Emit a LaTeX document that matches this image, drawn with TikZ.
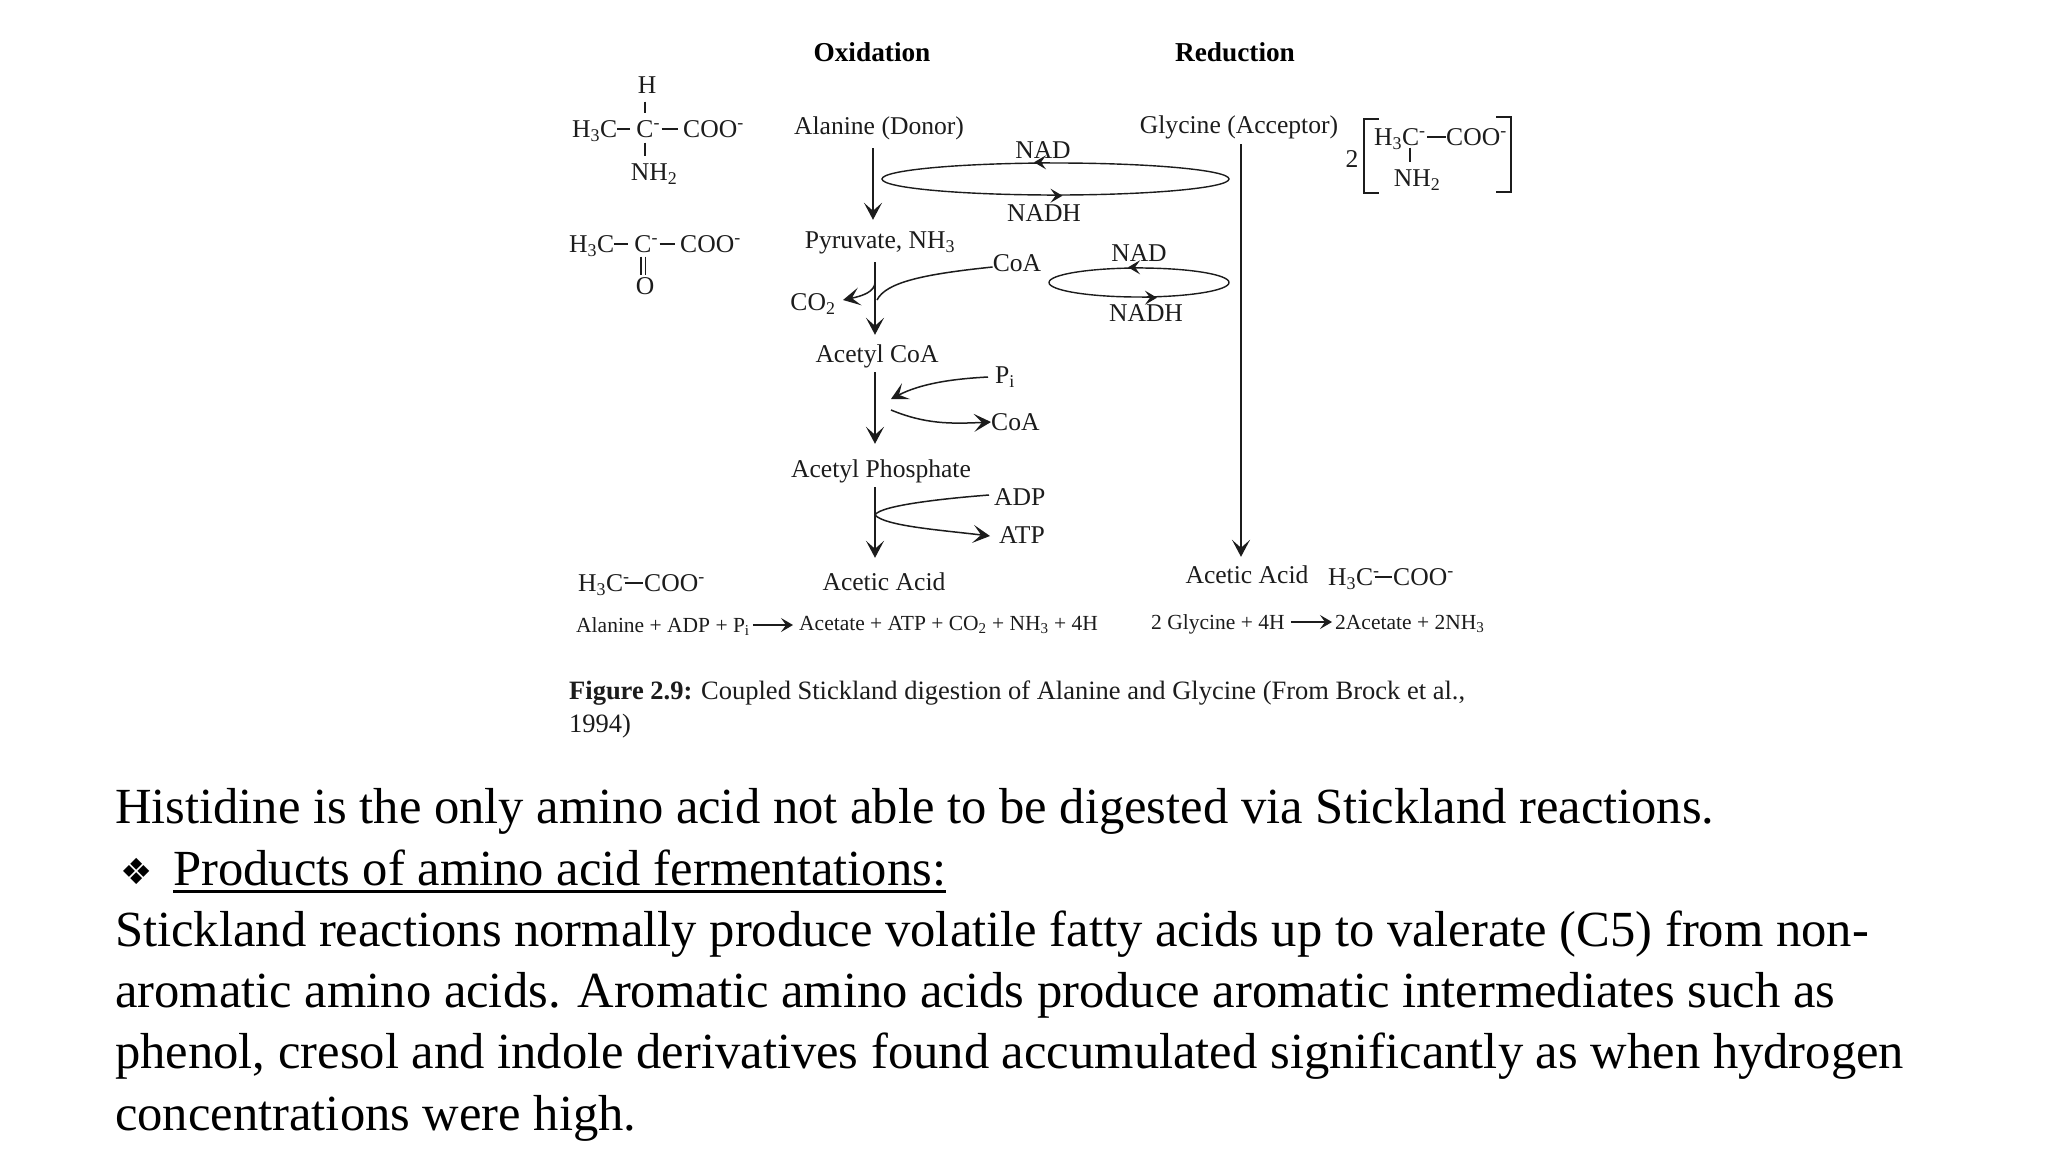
\documentclass[tikz,border=0pt]{standalone}
\usepackage{fontspec}
\setmainfont{Liberation Serif}
\newfontfamily\symfont{DejaVu Sans}
\usetikzlibrary{arrows.meta,shapes.geometric,calc}
\newcommand{\sbs}[1]{\textsubscript{#1}}
\newcommand{\spm}{\rlap{\textsuperscript{-}}}
\definecolor{ink}{HTML}{1C1C1C}
\tikzset{
  lab/.style={inner sep=0pt,text height=22pt,text depth=5pt,text=ink,font=\fontsize{25.6}{30}\selectfont},
  eqlab/.style={inner sep=0pt,text height=18pt,text depth=4pt,text=ink,font=\fontsize{21.5}{26}\selectfont},
  head/.style={inner sep=0pt,text=black,font=\bfseries\fontsize{27.3}{32}\selectfont},
  captext/.style={inner sep=0pt,anchor=base west,text=ink,font=\fontsize{26.5}{32}\selectfont},
  body/.style={inner sep=0pt,anchor=base west,text=black,font=\fontsize{50.6}{60}\selectfont},
  bond/.style={draw=ink,line width=1.5pt},
  conn/.style={draw=ink,line width=1.5pt},
  arr/.style={draw=ink,line width=1.5pt,-{Stealth[length=17pt,width=18pt,inset=8pt]}},
  arrsm/.style={draw=ink,line width=1.5pt,-{Stealth[length=12pt,width=14pt,inset=5pt]}},
  loopring/.style={ellipse,draw=ink,line width=1.4pt,inner sep=0pt,fill=none},
}
\begin{document}
\begin{tikzpicture}[x=1pt,y=-1pt]
\useasboundingbox[fill=white] (0,0) rectangle (2048,1152);
% headers
\node[head] (oxid) at (872,52) {Oxidation};
\node[head] (redu) at (1235,52) {Reduction};
% alanine structure
\node[lab] (alaH) at (647,85) {H};
\node[lab,anchor=west] (alaM) at (572,129) {H\sbs{3}C};
\node[lab] (alaC) at (645,129) {C\spm};
\node[lab,anchor=west] (alaO) at (683,129) {COO\textsuperscript{-}};
\node[lab] (alaN) at (654,172) {NH\sbs{2}};
\draw[bond,shorten <=3pt,shorten >=2pt] (alaH.south -| alaC) -- (alaC.north);
\draw[bond,shorten >=6pt] (alaM.east) -- (alaC.west);
\draw[bond,shorten <=8pt,shorten >=5pt] (alaC.east) -- (alaO.west);
\draw[bond,shorten <=0pt,shorten >=2pt] (alaC.south) -- (alaN.north -| alaC);
% pyruvate structure
\node[lab,anchor=west] (pyrM) at (569,244) {H\sbs{3}C};
\node[lab] (pyrC) at (643,244) {C\spm};
\node[lab,anchor=west] (pyrO) at (680,244) {COO\textsuperscript{-}};
\node[lab] (pyrX) at (645,286) {O};
\draw[bond,shorten >=6pt] (pyrM.east) -- (pyrC.west);
\draw[bond,shorten <=8pt,shorten >=5pt] (pyrC.east) -- (pyrO.west);
\draw[bond,line width=1.2pt,shorten >=-3pt,shorten <=-1pt] ($(pyrC.south)+(-2,0)$) -- ($(pyrX.north)+(-4,0)$);
\draw[bond,line width=1.2pt,shorten >=-3pt,shorten <=-1pt] ($(pyrC.south)+(2.5,0)$) -- ($(pyrX.north)+(0.5,0)$);
% oxidation pathway
\coordinate (colA) at (873,0);
\coordinate (colB) at (875,0);
\coordinate (colC) at (1241,0);
\coordinate (colD) at (1410,0);
\node[lab] (ala) at (879,126) {Alanine (Donor)};
\node[lab] (pyr) at (880,240) {Pyruvate, NH\sbs{3}};
\node[lab] (coaA) at (1017,263) {CoA};
\node[lab] (co2) at (813,302) {CO\sbs{2}};
\node[lab] (ace) at (877,354) {Acetyl CoA};
\node[lab,anchor=west] (pi) at (995,375) {P\sbs{i}};
\node[lab,anchor=west] (coaB) at (991,422) {CoA};
\node[lab] (acp) at (881,469) {Acetyl Phosphate};
\node[lab,anchor=west] (adp) at (994,497) {ADP};
\node[lab,anchor=west] (atp) at (999,535) {ATP};
\node[lab] (aca) at (884,582) {Acetic Acid};
\draw[arr,shorten <=8.5pt,shorten >=6.5pt] (ala.south -| colA) -- (pyr.north -| colA);
\draw[arr,shorten <=8.5pt,shorten >=5.5pt] (pyr.south -| colB) -- (ace.north -| colB);
\draw[arr,shorten <=4.5pt,shorten >=11.5pt] (ace.south -| colB) -- (acp.north -| colB);
\draw[arr,shorten <=4.5pt,shorten >=10.5pt] (acp.south -| colB) -- (aca.north -| colB);
% side curves
\coordinate (jA) at (877,300);
\coordinate (jB) at (875,282);
\coordinate (tipCO) at (843,300);
\draw[conn] (coaA.west) ++(0,4) .. controls (925,274) and (886,282) .. (jA);
\draw[arr] (jB) .. controls (875,292) and (862,296) .. (tipCO);
\coordinate (tipP) at (891,399);
\coordinate (stC) at (891,410);
\draw[arr] (pi.west) ++(-7,2) .. controls (950,379) and (920,384) .. (tipP);
\draw[arr] (stC) .. controls (925,424) and (950,424) .. (coaB.west);
\coordinate (jC) at (875,515);
\coordinate (tipA) at (990,536);
\draw[conn] (adp.west) ++(-5,-2) .. controls (950,498) and (880,505) .. (jC);
\draw[arr] (jC) .. controls (885,526) and (940,530) .. (tipA);
% NAD loops
\node[loopring,minimum width=347pt,minimum height=32pt] (loopA) at (1055.5,179) {};
\node[loopring,minimum width=180pt,minimum height=29pt] (loopB) at (1139,282.5) {};
\node[lab] (nadA) at (1043,150) {NAD};
\node[lab] (nadhA) at (1044,213) {NADH};
\node[lab] (nadB) at (1139,253) {NAD};
\node[lab] (nadhB) at (1146,313) {NADH};
\draw[arrsm] ($(loopA.north)+(-6,0)$) -- ($(loopA.north)+(-21.5,0)$);
\draw[arrsm] ($(loopA.south)+(-9,0)$) -- ($(loopA.south)+(7,0)$);
\draw[arrsm] ($(loopB.north)+(4,0)$) -- ($(loopB.north)+(-11,0)$);
\draw[arrsm] ($(loopB.south)+(3,0)$) -- ($(loopB.south)+(18,0)$);
% glycine
\node[lab] (gly) at (1239,125) {Glycine (Acceptor)};
\node[lab] (acb) at (1247,575) {Acetic Acid};
\draw[arr,shorten <=5.5pt,shorten >=4.5pt] (gly.south -| colC) -- (acb.north -| colC);
% glycine structure
\node[lab] (two) at (1352,159) {2};
\node[lab,anchor=west] (glyM) at (1374,137) {H\sbs{3}C\textsuperscript{-}};
\node[lab,anchor=west] (glyO) at (1446,137) {COO\textsuperscript{-}};
\node[lab] (glyN) at (1417,178) {NH\sbs{2}};
\draw[bond] (1427,137) -- (glyO.west);
\draw[bond,shorten <=-3pt,shorten >=2pt] (glyM.south -| colD) -- (glyN.north -| colD);
\draw[bond] (1379,119) -- (1364,119) -- (1364,193) -- (1379,193);
\draw[bond] (1496,117) -- (1511,117) -- (1511,192) -- (1496,192);
% acetate structures
\node[lab,anchor=west] (acM) at (578,583) {H\sbs{3}C\rlap{\textsuperscript{-}}};
\node[lab,anchor=west] (acO) at (644,583) {COO\textsuperscript{-}};
\draw[bond,shorten <=2pt,shorten >=1pt] (acM.east) -- (acO.west);
\node[lab,anchor=west] (adM) at (1328,577) {H\sbs{3}C\rlap{\textsuperscript{-}}};
\node[lab,anchor=west] (adO) at (1393,577) {COO\textsuperscript{-}};
\draw[bond,shorten <=2pt,shorten >=1pt] (adM.east) -- (adO.west);
% equations
\node[eqlab,anchor=west] (eqA) at (576,625) {Alanine + ADP + P\sbs{i}};
\node[eqlab,anchor=west] (eqB) at (799,623) {Acetate + ATP + CO\sbs{2} + NH\sbs{3} + 4H};
\node[eqlab,anchor=west] (eqC) at (1151,622) {2 Glycine + 4H};
\node[eqlab,anchor=west] (eqD) at (1335,622) {2Acetate + 2NH\sbs{3}};
\draw[arrsm,shorten <=3pt,shorten >=6pt] (eqA.east) -- (eqA.east -| eqB.west);
\draw[arrsm,shorten <=6pt,shorten >=3pt] (eqC.east) -- (eqC.east -| eqD.west);
% caption
\node[captext] (capA) at (569,699) {\textbf{Figure 2.9:} Coupled Stickland digestion of Alanine and Glycine (From Brock et al.,};
\node[captext] (capB) at (569,732) {1994)};
% body text
\node[body] (bA) at (115,823) {Histidine is the only amino acid not able to be digested via Stickland reactions.};
\node[inner sep=0pt,text=black,font=\symfont\fontsize{36}{40}\selectfont] (bul) at (137,871) {❖};
\node[body] (bB) at (173,885) {Products of amino acid fermentations:};
\draw[line width=2.6pt,black] ($(bB.base west)+(0,6.5)$) -- ($(bB.base east)+(0,6.5)$);
\node[body] (bC) at (115,946) {Stickland reactions normally produce volatile fatty acids up to valerate (C5) from non-};
\node[body] (bD) at (115,1007) {aromatic amino acids. Aromatic amino acids produce aromatic intermediates such as};
\node[body] (bE) at (115,1068) {phenol, cresol and indole derivatives found accumulated significantly as when hydrogen};
\node[body] (bF) at (115,1130) {concentrations were high.};
\end{tikzpicture}
\end{document}
